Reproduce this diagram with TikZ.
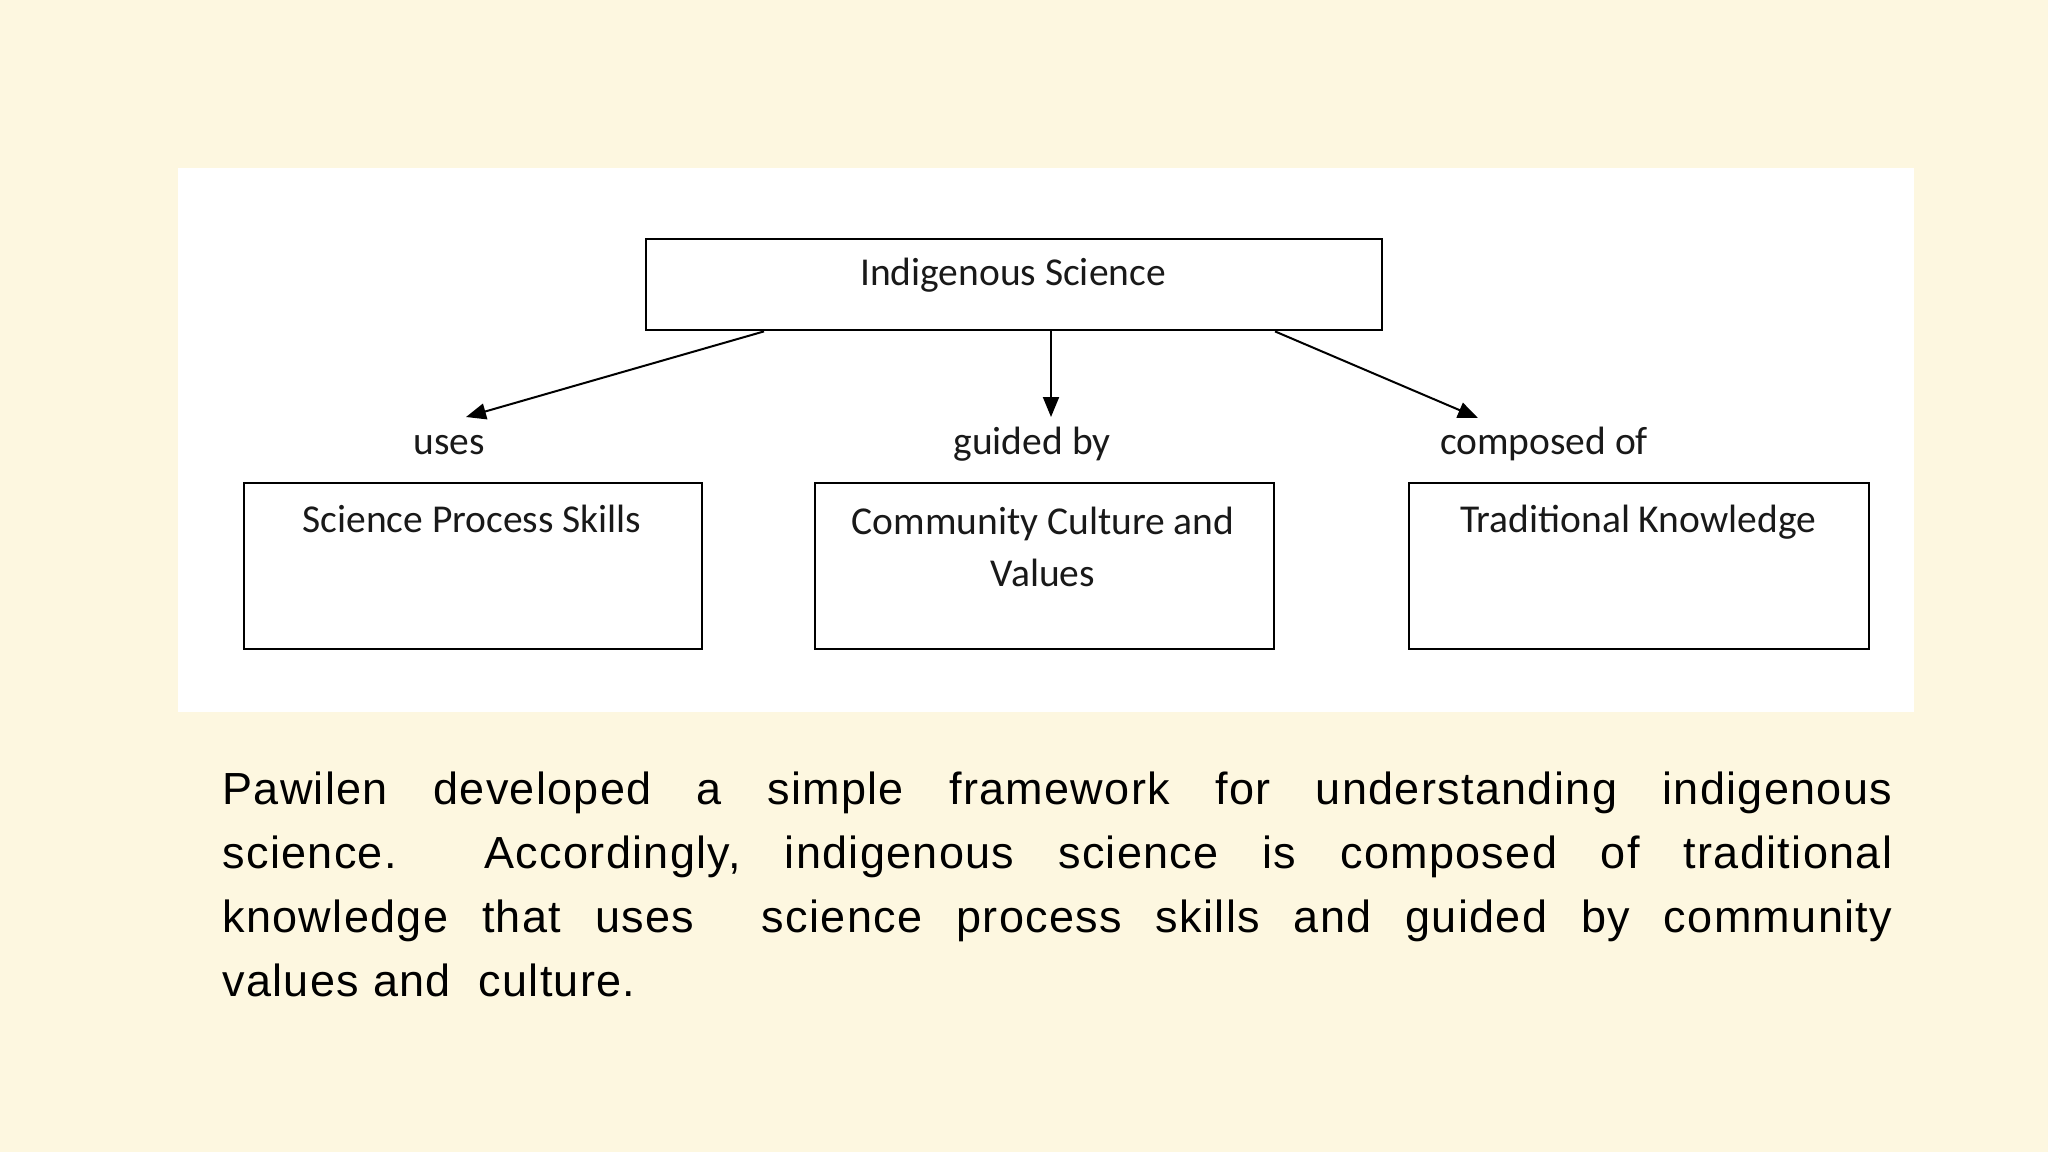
\documentclass[tikz,border=0pt]{standalone}
\usepackage{fontspec}
\setmainfont{Carlito}
\newfontfamily\parafont{Liberation Sans}[LetterSpace=3]
\usetikzlibrary{arrows.meta}
\definecolor{cream}{RGB}{253,247,224}
\definecolor{ink}{RGB}{25,25,25}
\begin{document}
\begin{tikzpicture}[x=0.5pt,y=-0.5pt,
  box/.style={draw=black, line width=1.2pt, fill=white, inner sep=0pt, anchor=north west},
  boxtext/.style={font=\fontsize{19.75}{26}\selectfont, text=ink, anchor=base, align=center, inner sep=0pt},
  rel/.style={font=\fontsize{19.75}{24}\selectfont, text=ink, anchor=base, inner sep=0pt},
  conn/.style={draw=black, line width=1pt, -{Triangle[length=10pt,width=8pt]}}]
\useasboundingbox (0,0) rectangle (2048,1152);
\fill[cream] (0,0) rectangle (2048,1152);
\fill[white] (178,168) rectangle (1914,712);
% boxes
\node[box, minimum width=368pt, minimum height=45.5pt] (top) at (645,238) {};
\node[box, minimum width=229pt, minimum height=83pt] (left) at (243,482) {};
\node[box, minimum width=229.5pt, minimum height=83pt] (mid) at (814,482) {};
\node[box, minimum width=230pt, minimum height=83pt] (right) at (1408,482) {};
% box texts
\node[boxtext] (ttop) at (1013,285) {Indigenous Science};
\node[boxtext] (tleft) at (472,532) {Science Process Skills};
\node[boxtext] (tmid) at (1043,586) {Community Culture and\\Values};
\node[boxtext] (tright) at (1638,532) {Traditional Knowledge};
% relation labels
\node[rel] (luses) at (449,454) {uses};
\node[rel] (lguided) at (1032,454) {guided by};
\node[rel] (lcomp) at (1544,454) {composed of};
% connectors
\coordinate (eL) at (466,417);
\coordinate (eM) at (1051,417);
\coordinate (eR) at (1478,418);
\draw[conn] ([xshift=59.5pt]top.south west) -- (eL);
\draw[conn] ([xshift=203pt]top.south west) -- (eM);
\draw[conn] ([xshift=315pt]top.south west) -- (eR);
% paragraph
\node[anchor=north west, inner sep=0pt, text width=835pt, align=justify,
  font=\parafont\fontsize{22.5}{32}\selectfont, text=black,
  execute at begin node={\frenchspacing\tolerance=10000\hyphenpenalty=10000\parindent=0pt}]
  (para) at (222,771)
  {Pawilen developed a simple framework for understanding indigenous\linebreak
   science.\ \ Accordingly, indigenous science is composed of traditional\linebreak
   knowledge that uses\ \ science process skills and guided by community\linebreak
   values and\ \ culture.};
\end{tikzpicture}
\end{document}
